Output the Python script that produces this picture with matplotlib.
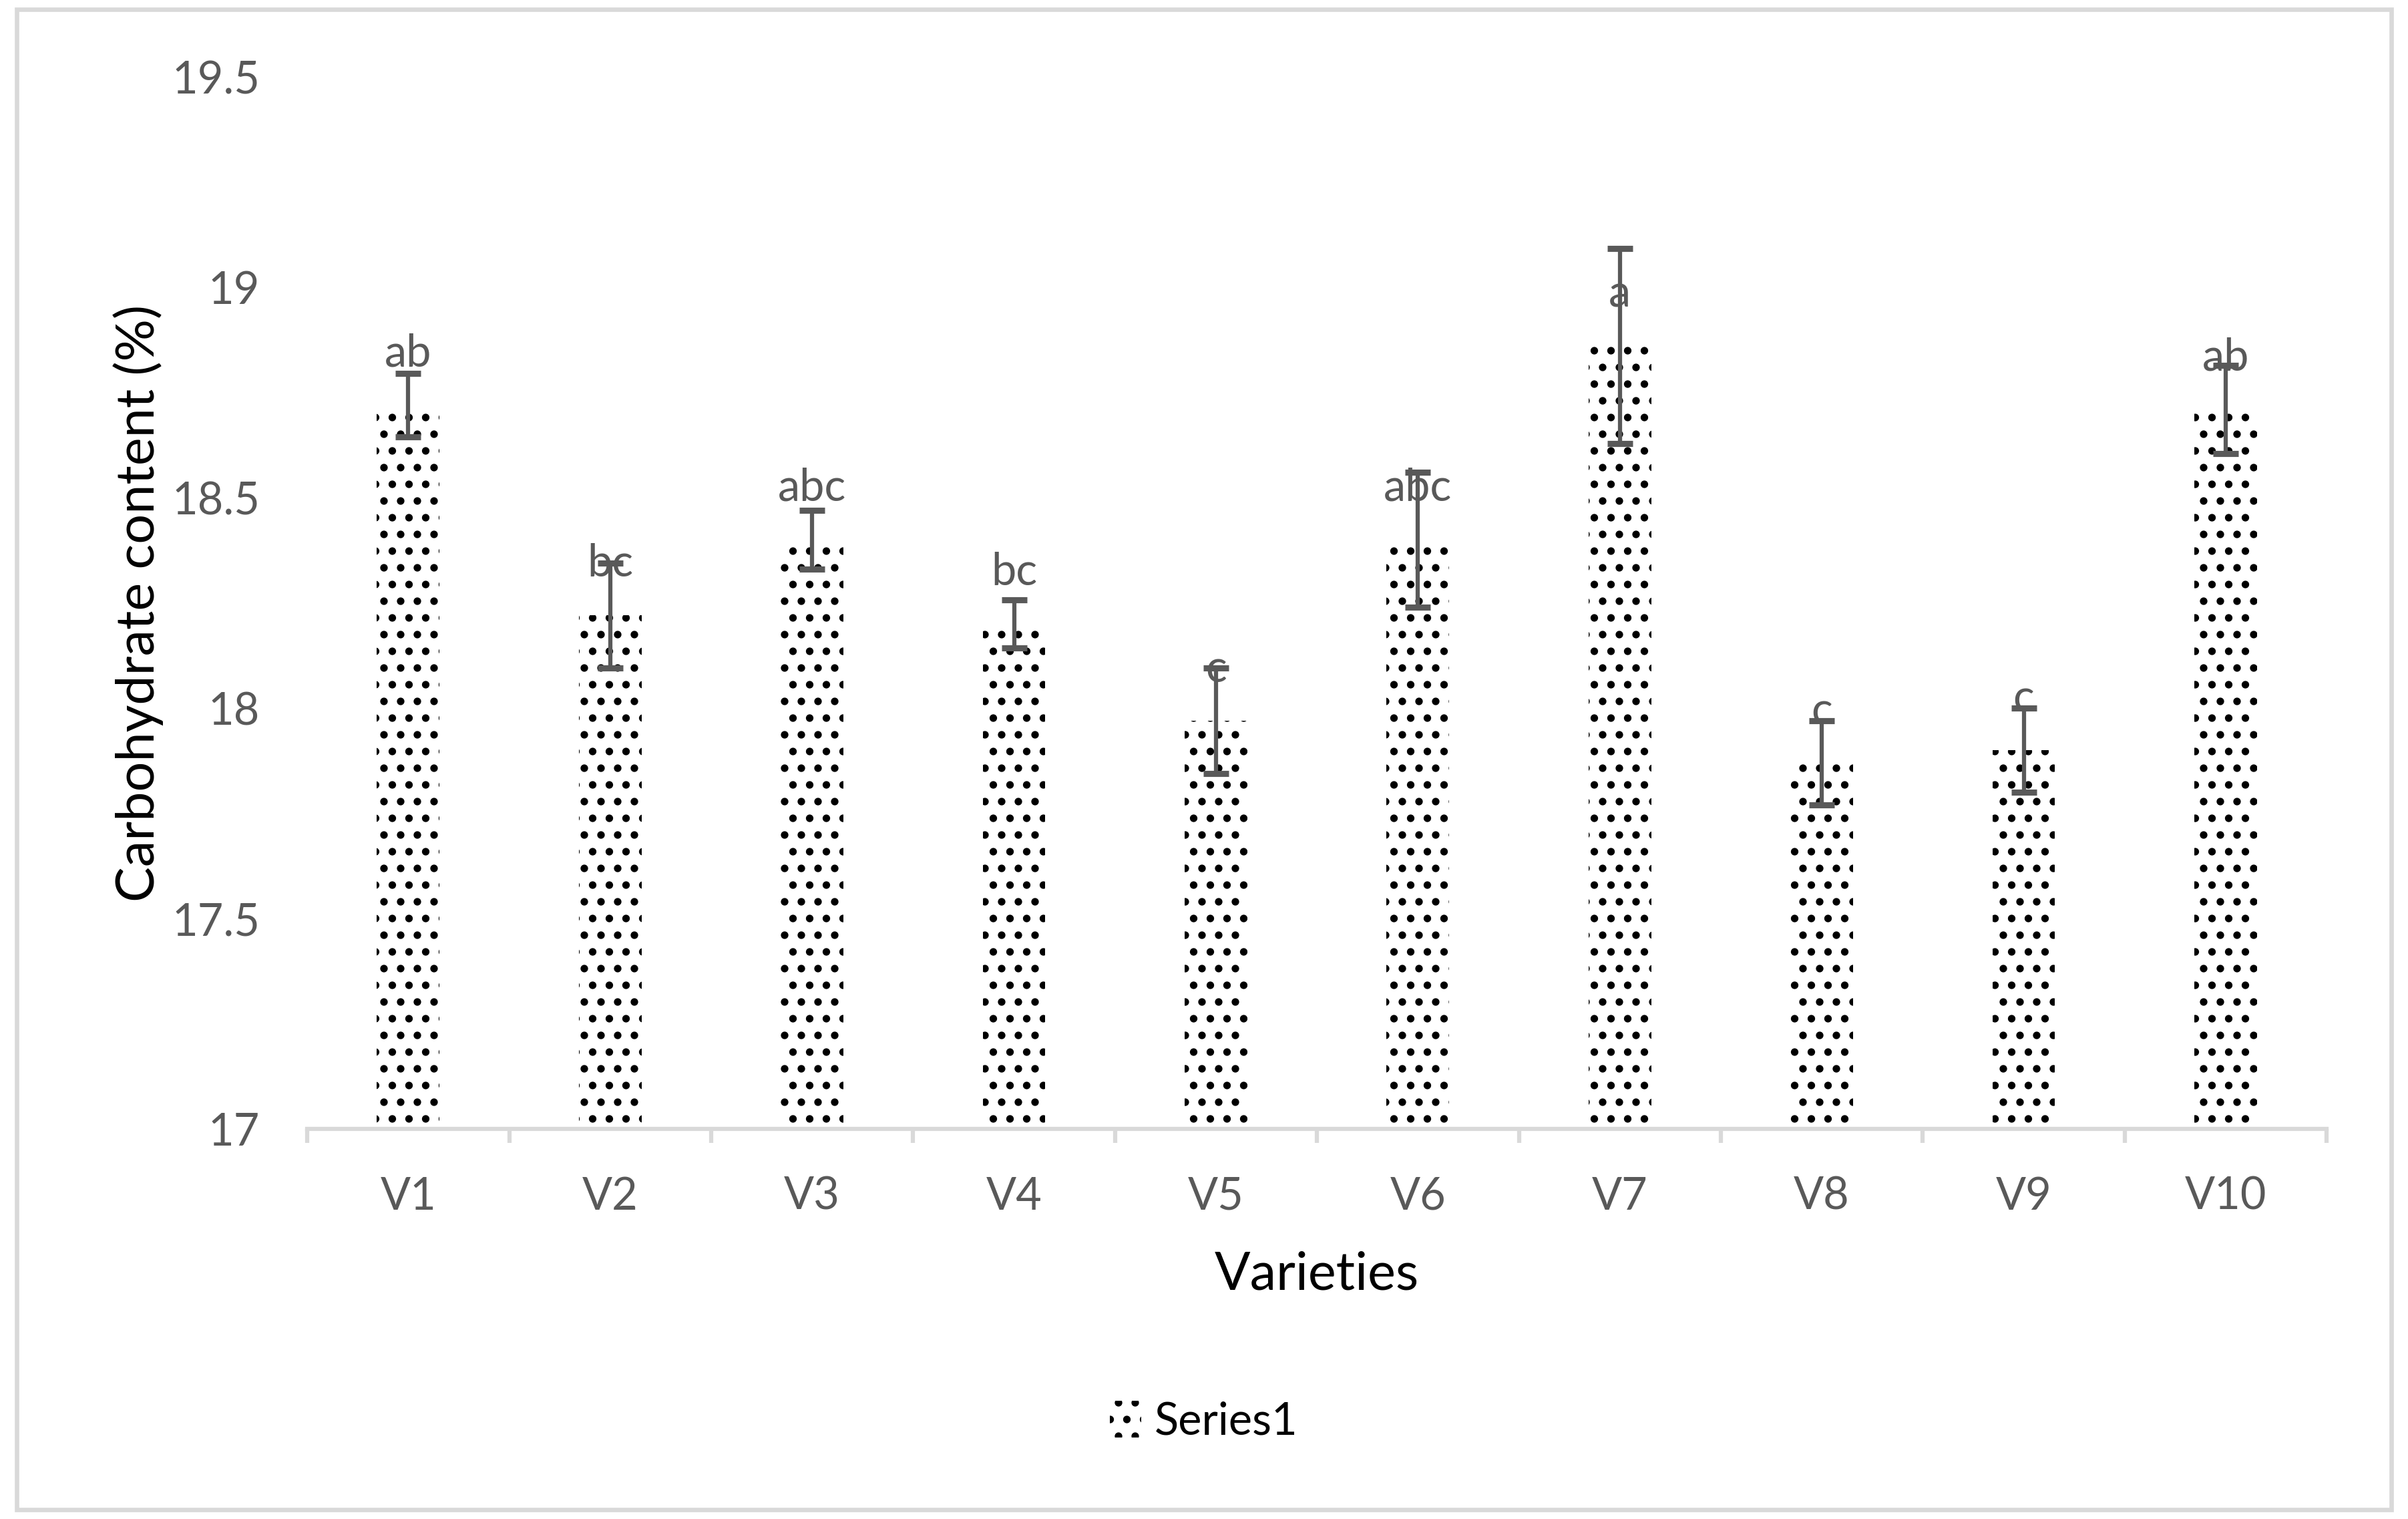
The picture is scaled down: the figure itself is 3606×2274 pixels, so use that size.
import matplotlib
matplotlib.use("Agg")
import matplotlib.pyplot as plt
from matplotlib.patches import Rectangle, Patch
import numpy as np

categories = ["V1", "V2", "V3", "V4", "V5", "V6", "V7", "V8", "V9", "V10"]
values = [18.72, 18.22, 18.40, 18.20, 17.97, 18.40, 18.86, 17.87, 17.90, 18.71]
errors = [0.075, 0.125, 0.07, 0.057, 0.126, 0.16, 0.232, 0.10, 0.10, 0.105]
letters = ["ab", "bc", "abc", "bc", "c", "abc", "a", "c", "c", "ab"]
yticks = [17, 17.5, 18, 18.5, 19, 19.5]
ytick_labels = ["17", "17.5", "18", "18.5", "19", "19.5"]
series_name = "Series1"

plt.rcParams['font.family'] = ['Lato', 'DejaVu Sans']
plt.rcParams['hatch.linewidth'] = 1.5

GRAY_TXT = "#595959"
GRAY_LINE = "#D9D9D9"

fig = plt.figure(figsize=(12.02, 7.58), dpi=300)
ax = fig.add_axes([0.1276, 0.2568, 0.8386, 0.6926])

x = np.arange(len(categories))
bars = ax.bar(x, values, width=0.31, color="white", edgecolor="black",
              linewidth=0, hatch="..", zorder=2, label=series_name)
ax.errorbar(x, values, yerr=errors, fmt="none", ecolor="#595959",
            elinewidth=1.5, capsize=4.5, capthick=2.2, zorder=4)

for xi, v, lab in zip(x, values, letters):
    ax.annotate(lab, (xi, v), xytext=(0, 14), textcoords="offset points",
                ha="center", va="baseline", fontsize=16, color=GRAY_TXT, zorder=3)

ax.set_xlim(-0.5, len(categories) - 0.5)
ax.set_ylim(17, 19.5)
ax.set_yticks(yticks)
ax.set_yticklabels(ytick_labels)
ax.set_xticks(x)
ax.set_xticklabels(categories)
ax.set_xticks(np.arange(-0.5, len(categories), 1.0), minor=True)

for s in ["top", "right", "left"]:
    ax.spines[s].set_visible(False)
ax.spines["bottom"].set_color(GRAY_LINE)
ax.spines["bottom"].set_linewidth(1.5)

ax.tick_params(axis="y", length=0, pad=17, labelsize=16, labelcolor=GRAY_TXT)
ax.tick_params(axis="x", which="major", length=0, pad=17, labelsize=16, labelcolor=GRAY_TXT)
ax.tick_params(axis="x", which="minor", length=5, width=1.5, color=GRAY_LINE, direction="out")

ax.set_xlabel("Varieties", fontsize=19, color="black", labelpad=12)
ax.set_ylabel("Carbohydrate content (%)", fontsize=19, color="black", labelpad=3)

leg_handle = Patch(facecolor="white", edgecolor="black", linewidth=0, hatch="..")
fig.legend([leg_handle], [series_name], loc="center", bbox_to_anchor=(0.5, 0.064),
           frameon=False, fontsize=16, handlelength=0.7, handleheight=0.9,
           handletextpad=0.3)

fig.patches.append(Rectangle((0.0068, 0.006), 0.9864, 0.988, transform=fig.transFigure,
                             fill=False, edgecolor=GRAY_LINE, linewidth=1.6))

fig.savefig("out.png", dpi=300, facecolor="white")
